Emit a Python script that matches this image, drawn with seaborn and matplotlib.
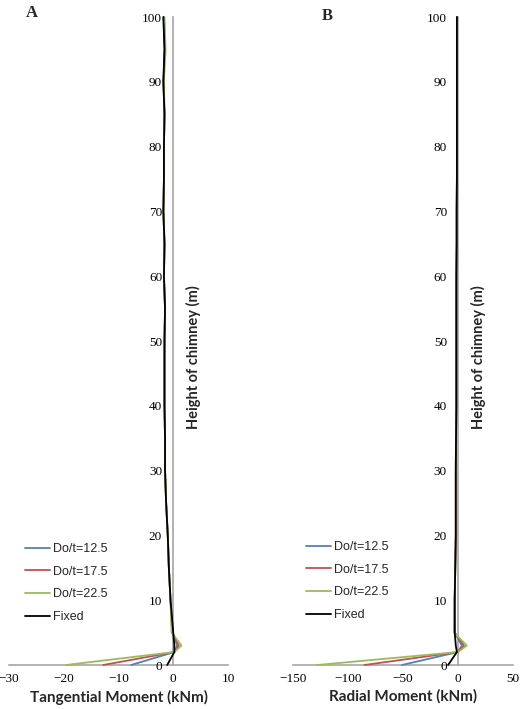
import pandas as pd
import matplotlib.pyplot as plt
import seaborn as sns

heights = [0, 2, 3, 5, 10, 15, 20, 25, 30, 35, 40, 45, 50, 55, 60, 65, 70, 75, 80, 85, 90, 95, 100]
series_names = ["Do/t=12.5", "Do/t=17.5", "Do/t=22.5", "Fixed"]

# panel A: tangential moment (kNm)
tang_125 = [-7.7, 0.2, 0.7, -0.1, -0.5, -0.8, -1.0, -1.3, -1.5, -1.5, -1.6, -1.6, -1.6, -1.5, -1.7, -1.6, -1.8, -1.7, -1.7, -1.6, -1.8, -1.6, -1.8]
tang_175 = [-12.8, 0.2, 1.0, -0.2, -0.5, -0.8, -1.0, -1.3, -1.5, -1.5, -1.6, -1.6, -1.6, -1.5, -1.7, -1.6, -1.8, -1.7, -1.7, -1.6, -1.8, -1.5, -1.7]
tang_225 = [-19.6, 0.2, 1.5, -0.3, -0.5, -0.8, -1.0, -1.3, -1.5, -1.5, -1.6, -1.6, -1.6, -1.5, -1.7, -1.6, -1.8, -1.7, -1.7, -1.6, -1.7, -1.4, -1.6]
tang_fixed = [-1.1, 0.2, 0.2, 0.0, -0.5, -0.8, -1.0, -1.3, -1.5, -1.5, -1.6, -1.6, -1.6, -1.5, -1.7, -1.6, -1.8, -1.7, -1.7, -1.6, -1.8, -1.6, -1.8]

# panel B: radial moment (kNm)
rad_125 = [-51, 0, 3.5, -3, -3, -2.5, -2, -2, -2, -1.8, -1.5, -1.5, -1.5, -1.5, -1.5, -1.2, -1.2, -1, -1, -1, -1, -1, -1]
rad_175 = [-85, 0, 5.5, -3, -3, -2.5, -2, -2, -2, -1.8, -1.5, -1.5, -1.5, -1.5, -1.5, -1.2, -1.2, -1, -1, -1, -1, -1, -1]
rad_225 = [-128, 0, 8, -3.5, -3, -2.5, -2, -2, -2, -1.8, -1.5, -1.5, -1.5, -1.5, -1.5, -1.2, -1.2, -1, -1, -1, -1, -1, -1]
rad_fixed = [-9, -1, -2, -3, -3, -2.5, -2, -2, -2, -1.8, -1.5, -1.5, -1.5, -1.5, -1.5, -1.2, -1.2, -1, -1, -1, -1, -1, -1]

colors = {"Do/t=12.5": "#4F81BD", "Do/t=17.5": "#C0504D", "Do/t=22.5": "#9BBB59", "Fixed": "#000000"}


def long_table(cols):
    frames = []
    for name, vals in zip(series_names, cols):
        frames.append(pd.DataFrame({"height": heights, "moment": vals, "series": name}))
    return pd.concat(frames, ignore_index=True)


sns.set_style("white")
plt.rcParams["font.family"] = ["Liberation Serif", "DejaVu Serif"]

fig = plt.figure(figsize=(5.2, 7.09), dpi=100)
W, H = 520, 709

panels = [
    dict(data=long_table([tang_125, tang_175, tang_225, tang_fixed]), xlim=(-30, 10), ticks=[-30, -20, -10, 0, 10],
         box=(9, 17, 228, 665), xlabel="Tangential Moment (kNm)", ylab_x=2.4, letter="A", letter_xy=(32, 13),
         leg=(25, 543)),
    dict(data=long_table([rad_125, rad_175, rad_225, rad_fixed]), xlim=(-150, 50), ticks=[-150, -100, -50, 0, 50],
         box=(293, 17, 513, 665), xlabel="Radial Moment (kNm)", ylab_x=11.5, letter="B", letter_xy=(327, 16),
         leg=(306, 541)),
]

for p in panels:
    x0, y0, x1, y1 = p["box"]
    ax = fig.add_axes([x0 / W, 1 - y1 / H, (x1 - x0) / W, (y1 - y0) / H])
    sns.lineplot(data=p["data"], x="moment", y="height", hue="series", palette=colors,
                 hue_order=series_names, orient="y", sort=False, estimator=None,
                 linewidth=1.3, ax=ax, legend=False)
    for ln in ax.lines:
        ln.set_clip_on(False)
    ax.set_xlim(*p["xlim"])
    ax.set_ylim(0, 100)
    ax.set_xticks(p["ticks"])
    ax.set_yticks(range(0, 101, 10))
    ax.spines["left"].set_position(("data", 0))
    for s in ["top", "right"]:
        ax.spines[s].set_visible(False)
    for s in ["left", "bottom"]:
        ax.spines[s].set_color("#A6A6A6")
        ax.spines[s].set_linewidth(1.2)
        ax.spines[s].set_zorder(0.5)
    ax.tick_params(axis="both", length=0, labelsize=9.5, colors="black")
    ax.tick_params(axis="y", pad=8)
    ax.tick_params(axis="x", pad=6)
    ax.set_xlabel(p["xlabel"], family="Lato", fontweight="bold", fontsize=11, labelpad=3)
    ax.set_ylabel("")
    ax.text(p["ylab_x"], 47.5, "Height of chimney (m)", rotation=90, ha="left", va="center",
            family="Lato", fontweight="bold", fontsize=10.5)
    lx, ly = p["letter_xy"]
    fig.text(lx / W, 1 - ly / H, p["letter"], ha="center", va="center",
             fontweight="bold", fontsize=12)
    handles = [plt.Line2D([], [], color=colors[n], linewidth=1.3) for n in series_names]
    gx, gy = p["leg"]
    ax.legend(handles, series_names, loc="upper left", bbox_to_anchor=(gx / W, 1 - gy / H),
              bbox_transform=fig.transFigure, frameon=False, borderpad=0, borderaxespad=0,
              handlelength=2.0, handletextpad=0.25, labelspacing=0.85,
              prop={"family": "Liberation Sans", "size": 9})

fig.savefig("out.png", dpi=100)
